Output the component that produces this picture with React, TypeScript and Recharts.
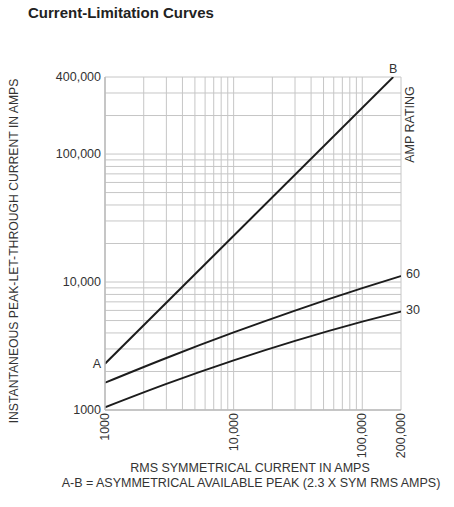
import React from 'react';
import { LineChart, Line, XAxis, YAxis, CartesianGrid, LabelList } from 'recharts';

// ---- data ----
const xGridTicks = [1000, 2000, 3000, 4000, 5000, 6000, 7000, 8000, 9000, 10000, 20000, 30000, 40000, 50000, 60000, 70000, 80000, 90000, 100000, 200000];
const yGridTicks = [1000, 2000, 3000, 4000, 5000, 6000, 7000, 8000, 9000, 10000, 20000, 30000, 40000, 50000, 60000, 70000, 80000, 90000, 100000, 200000, 300000, 400000];
const xTickLabels: Record<number, string> = { 1000: '1000', 10000: '10,000', 100000: '100,000', 200000: '200,000' };
const yTickLabels: Record<number, string> = { 1000: '1000', 10000: '10,000', 100000: '100,000', 400000: '400,000' };

const abCurrent = [1000, 174000];
const abPeak = [2300, 400000];
const abTags = ['A', 'B'];

const ratingCurrent = [1000, 3000, 10000, 30000, 100000, 200000];
const rating60Peak = [1633, 2549, 4035, 5982, 8954, 11143];
const rating30Peak = [1050, 1600, 2443, 3473, 4909, 5883];
const ratingTags = ['60', '30'];

const abData = abCurrent.map((x, i) => ({ x, y: abPeak[i] }));
const r60Data = ratingCurrent.map((x, i) => ({ x, y: rating60Peak[i] }));
const r30Data = ratingCurrent.map((x, i) => ({ x, y: rating30Peak[i] }));

const FONT = '"Liberation Sans", Arial, Helvetica, sans-serif';
const TXT = '#333333';
const GRID = '#c6c6c6';
const CURVE = '#1c1c1c';
const FS = 12.5;

const XTick = (props: any) => {
  const { x, y, payload } = props;
  const label = xTickLabels[payload.value];
  if (!label) return <g />;
  return (
    <text x={x} y={y} transform={`rotate(-90 ${x} ${y})`} textAnchor="end" dominantBaseline="central"
      fontFamily={FONT} fontSize={FS} fill={TXT}>{label}</text>
  );
};

const YTick = (props: any) => {
  const { x, y, payload } = props;
  const label = yTickLabels[payload.value];
  if (!label) return <g />;
  return (
    <text x={x} y={y} textAnchor="end" dominantBaseline="central" fontFamily={FONT} fontSize={FS} fill={TXT}>{label}</text>
  );
};

const abLabel = (p: any) => {
  const { x, y, index } = p;
  if (index === 0) {
    return <text x={x - 4} y={y} textAnchor="end" dominantBaseline="central" fontFamily={FONT} fontSize={FS} fill={TXT}>{abTags[0]}</text>;
  }
  if (index === abData.length - 1) {
    return <text x={x} y={y - 8} textAnchor="middle" dominantBaseline="central" fontFamily={FONT} fontSize={FS} fill={TXT}>{abTags[1]}</text>;
  }
  return <g />;
};

const endLabel = (tag: string) => (p: any) => {
  const { x, y, index } = p;
  if (index !== ratingCurrent.length - 1) return <g />;
  return <text x={x + 5} y={y - 2} textAnchor="start" dominantBaseline="central" fontFamily={FONT} fontSize={FS} fill={TXT}>{tag}</text>;
};

export default function App() {
  return (
    <div style={{ position: 'absolute', left: 0, top: 0, width: 454, height: 507, background: '#fff' }}>
      <LineChart width={454} height={507} margin={{ top: 77, right: 53, bottom: 47, left: 0 }}>
        <CartesianGrid stroke={GRID} strokeWidth={1} />
        <XAxis
          dataKey="x"
          type="number"
          scale="log"
          domain={[1000, 200000]}
          ticks={xGridTicks}
          interval={0}
          tick={<XTick />}
          tickLine={false}
          tickSize={0}
          tickMargin={3}
          axisLine={{ stroke: '#bdbdbd', strokeWidth: 1.5 }}
          height={50}
          allowDataOverflow
        />
        <YAxis
          dataKey="y"
          type="number"
          scale="log"
          domain={[1000, 400000]}
          ticks={yGridTicks}
          interval={0}
          tick={<YTick />}
          tickLine={false}
          tickSize={0}
          tickMargin={4}
          axisLine={{ stroke: '#bdbdbd', strokeWidth: 1.5 }}
          width={105}
          allowDataOverflow
        />
        <Line data={abData} dataKey="y" type="linear" stroke={CURVE} strokeWidth={1.9} dot={false} isAnimationActive={false}>
          <LabelList dataKey="y" content={abLabel} />
        </Line>
        <Line data={r60Data} dataKey="y" type="monotone" stroke={CURVE} strokeWidth={1.9} dot={false} isAnimationActive={false}>
          <LabelList dataKey="y" content={endLabel(ratingTags[0])} />
        </Line>
        <Line data={r30Data} dataKey="y" type="monotone" stroke={CURVE} strokeWidth={1.9} dot={false} isAnimationActive={false}>
          <LabelList dataKey="y" content={endLabel(ratingTags[1])} />
        </Line>
      </LineChart>
      <svg width={454} height={507} style={{ position: 'absolute', left: 0, top: 0, pointerEvents: 'none' }}>
        <text x={28} y={17.5} fontFamily={FONT} fontSize={15} fontWeight="bold" fill="#222">Current-Limitation Curves</text>
        <text x={14} y={251} transform="rotate(-90 14 251)" textAnchor="middle" dominantBaseline="central" fontFamily={FONT} fontSize={12.2} fill={TXT}>
          INSTANTANEOUS PEAK-LET-THROUGH CURRENT IN AMPS
        </text>
        <text x={410} y={124.5} transform="rotate(-90 410 124.5)" textAnchor="middle" dominantBaseline="central" fontFamily={FONT} fontSize={FS} fill={TXT}>
          AMP RATING
        </text>
        <text x={250} y={468} textAnchor="middle" dominantBaseline="central" fontFamily={FONT} fontSize={FS} fill={TXT}>
          RMS SYMMETRICAL CURRENT IN AMPS
        </text>
        <text x={251} y={483} textAnchor="middle" dominantBaseline="central" fontFamily={FONT} fontSize={FS} fill={TXT}>
          A-B = ASYMMETRICAL AVAILABLE PEAK (2.3 X SYM RMS AMPS)
        </text>
      </svg>
    </div>
  );
}
